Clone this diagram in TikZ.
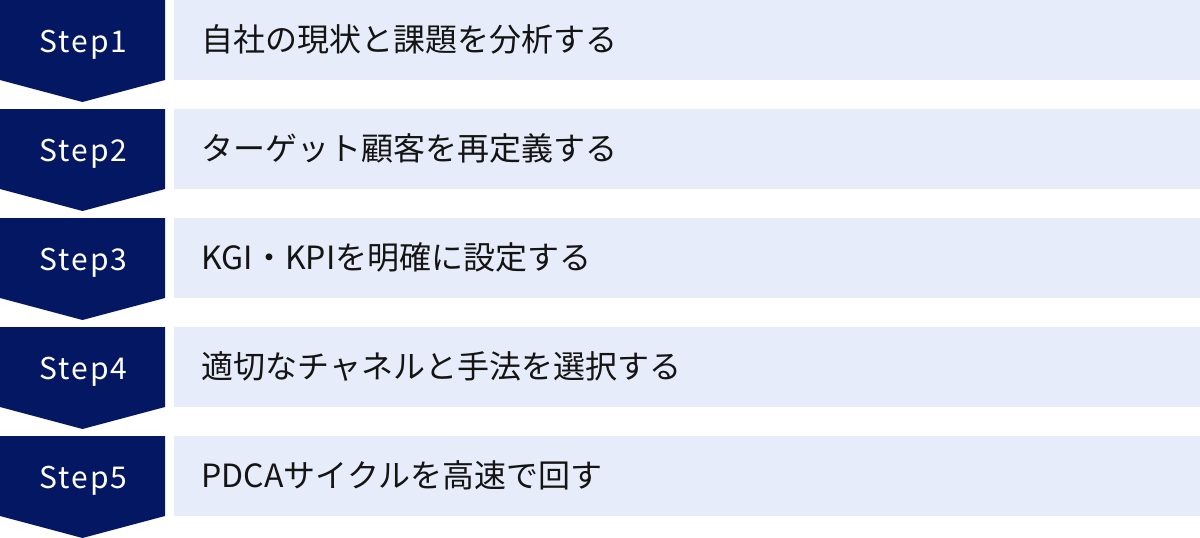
\documentclass[tikz,border=0pt]{standalone}
\usepackage{fontspec}
\setmainfont{Noto Sans CJK JP}
\newfontfamily\stepfont[LetterSpace=7]{Noto Sans CJK JP}
\definecolor{navy}{RGB}{4,23,98}
\definecolor{pale}{RGB}{230,236,249}
\definecolor{ink}{RGB}{20,20,20}
\begin{document}
\begin{tikzpicture}[x=1pt,y=-1pt,
  chevron/.style={fill=navy},
  box/.style={fill=pale, anchor=north west, minimum width=1026pt, minimum height=80pt, inner sep=0pt},
  steplabel/.style={anchor=base, inner sep=0pt, text=white, font=\stepfont\fontsize{30pt}{30pt}\selectfont},
  task/.style={anchor=base west, inner sep=0pt, text=ink, font=\fontsize{32pt}{32pt}\selectfont}]
\useasboundingbox (0,0) rectangle (1200,538);

% step 1
\fill[chevron] (0,0) -- (165,0) -- (165,80) -- (82.5,102) -- (0,80) -- cycle;
\node (s1) at (83.5,52.5) [steplabel] {Step1};
\node (b1) at (174,0) [box] {};
\node (t1) at (201.5,51) [task] {自社の現状と課題を分析する};

% step 2
\fill[chevron] (0,109) -- (165,109) -- (165,189) -- (82.5,211) -- (0,189) -- cycle;
\node (s2) at (83.5,161.5) [steplabel] {Step2};
\node (b2) at (174,109) [box] {};
\node (t2) at (201.5,160) [task] {ターゲット顧客を再定義する};

% step 3
\fill[chevron] (0,218) -- (165,218) -- (165,298) -- (82.5,320) -- (0,298) -- cycle;
\node (s3) at (83.5,270.5) [steplabel] {Step3};
\node (b3) at (174,218) [box] {};
\node (t3) at (201.5,269) [task] {KGI・KPIを明確に設定する};

% step 4
\fill[chevron] (0,327) -- (165,327) -- (165,407) -- (82.5,429) -- (0,407) -- cycle;
\node (s4) at (83.5,379.5) [steplabel] {Step4};
\node (b4) at (174,327) [box] {};
\node (t4) at (201.5,378) [task] {適切なチャネルと手法を選択する};

% step 5
\fill[chevron] (0,436) -- (165,436) -- (165,516) -- (82.5,538) -- (0,516) -- cycle;
\node (s5) at (83.5,488.5) [steplabel] {Step5};
\node (b5) at (174,436) [box] {};
\node (t5) at (201.5,487) [task] {PDCAサイクルを高速で回す};
\end{tikzpicture}
\end{document}
